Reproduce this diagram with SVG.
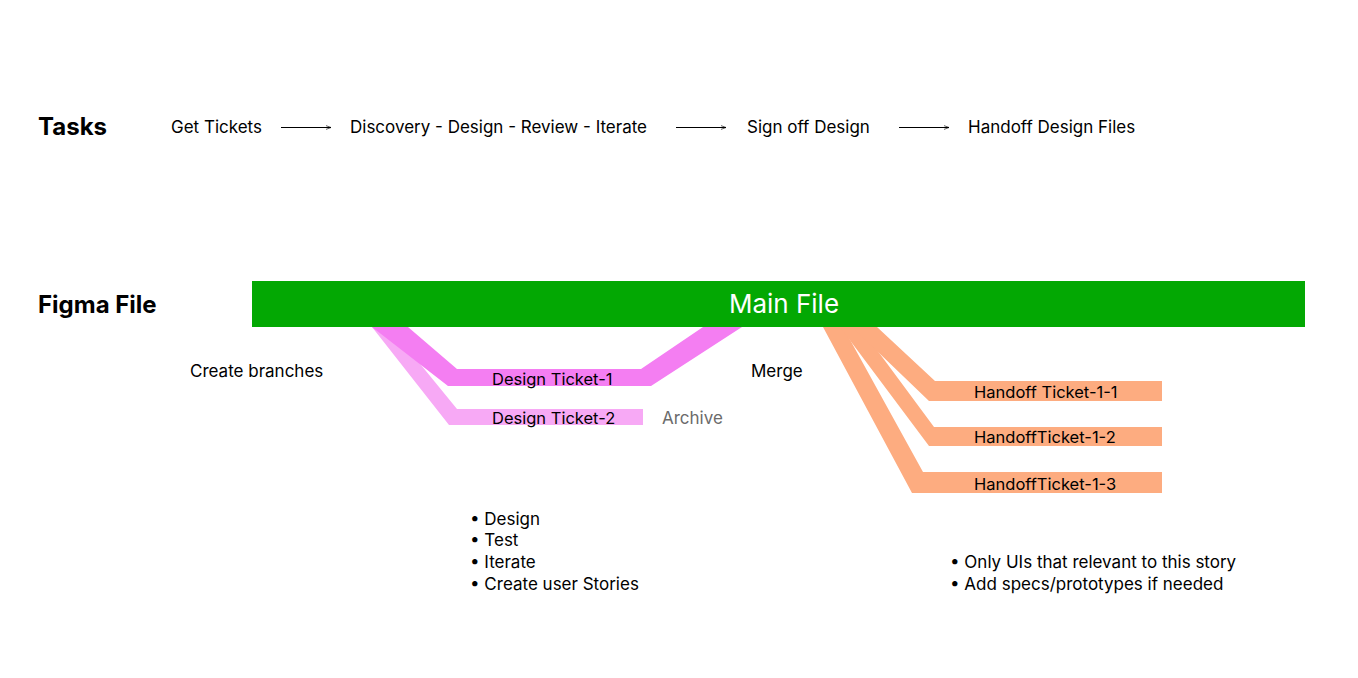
<svg xmlns="http://www.w3.org/2000/svg" width="1358" height="678" viewBox="0 0 1358 678">
<style>
text{font-family:Inter,"Liberation Sans",sans-serif;fill:#000}
.h{font-size:24px;font-weight:700}
.t{font-size:17px}
.lbl{font-size:16.5px}
.pk{fill:#f47ef2}
.lp{fill:#f7a9f5}
.or{fill:#fdac80}
</style>
<defs><marker id="a" viewBox="0 0 8 8" refX="8" refY="4" markerWidth="5" markerHeight="5" orient="auto"><path d="M0,1 L8,4 L0,7" fill="none" stroke="#000" stroke-width="1"/></marker></defs>
<rect width="1358" height="678" fill="#fff"/>
<g id="tasks">
<text class="h" x="38" y="135">Tasks</text>
<text class="t" x="171" y="133">Get Tickets</text>
<text class="t" x="350" y="133">Discovery - Design - Review - Iterate</text>
<text class="t" x="747" y="133">Sign off Design</text>
<text class="t" x="968" y="133">Handoff Design Files</text>
</g>
<g id="connectors" stroke="#000" stroke-width="1" marker-end="url(#a)">
<line x1="281" y1="127.5" x2="331" y2="127.5"/>
<line x1="676" y1="127.5" x2="726" y2="127.5"/>
<line x1="899" y1="127.5" x2="949" y2="127.5"/>
</g>
<text class="h" x="38" y="313">Figma File</text>
<g id="branches">
<polygon class="lp" points="372,327 390,327 457,409 643,409 643,425 449,425"/>
<polygon class="pk" points="372,327 408,327 457,369 641,369 703,327 742,327 651,386 448,386"/>
<polygon class="or" points="823,327 843,327 923,472 1162,472 1162,493 912,493"/>
<polygon class="or" points="840,327 860,327 934,427 1162,427 1162,446 929,446"/>
<polygon class="or" points="852,327 877,327 935,381 1162,381 1162,401 929,401"/>
</g>
<g id="main"><rect x="252" y="281" width="1053" height="46" fill="#03a803"/>
<text x="784" y="313" text-anchor="middle" font-size="26" style="fill:#fff">Main File</text></g>
<g id="labels">
<text class="t" x="190" y="377">Create branches</text>
<text class="t" x="751" y="377">Merge</text>
<text class="lbl" x="492" y="385">Design Ticket-1</text>
<text class="lbl" x="492" y="424">Design Ticket-2</text>
<text class="t" x="662" y="424" style="fill:#6b6b6b">Archive</text>
<text class="lbl" x="974" y="398">Handoff Ticket-1-1</text>
<text class="lbl" x="974" y="443">HandoffTicket-1-2</text>
<text class="lbl" x="974" y="490">HandoffTicket-1-3</text>
</g>
<g id="list1" class="t">
<text class="t" x="470" y="525">•  Design</text>
<text class="t" x="470" y="546">•  Test</text>
<text class="t" x="470" y="568">•  Iterate</text>
<text class="t" x="470" y="590">•  Create user Stories</text>
</g>
<g id="list2">
<text class="t" x="950" y="568">•  Only UIs that relevant to this story</text>
<text class="t" x="950" y="590">•  Add specs/prototypes if needed</text>
</g>
</svg>
